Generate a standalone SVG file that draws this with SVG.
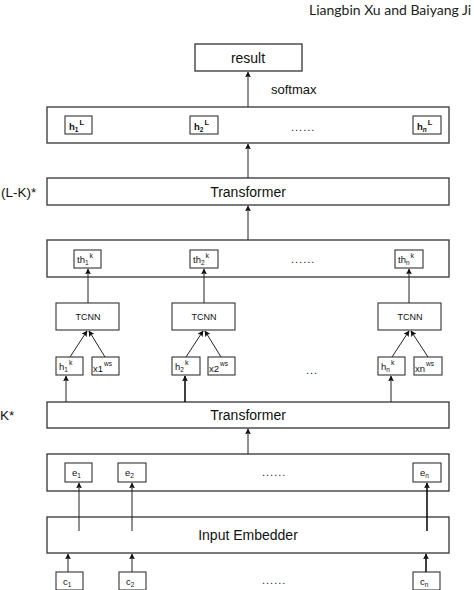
<svg xmlns="http://www.w3.org/2000/svg" width="474" height="590" viewBox="0 0 474 590">
<style>
.b{fill:#fff;stroke:#333;stroke-width:1.3}
.s{fill:#fff;stroke:#333;stroke-width:1.1}
.t{font-family:"Liberation Sans",Arial,sans-serif;fill:#111}
.l{font-size:14px;text-anchor:middle}
.m{font-size:9.5px}
.c{stroke:#222;stroke-width:1;fill:none}
.k{stroke:#111;stroke-width:1.6;fill:none}
.d{font-size:11px;letter-spacing:1px;fill:#222}
</style>
<defs>
<marker id="a" viewBox="0 0 10 10" refX="9" refY="5" markerWidth="6" markerHeight="6" orient="auto" markerUnits="userSpaceOnUse">
<path d="M0,0 L10,5 L0,10 L2,5 Z" fill="#111"/>
</marker>
</defs>
<text x="309" y="15" font-family="Lato,'Open Sans',sans-serif" font-size="14" fill="#222">Liangbin Xu and Baiyang Ji</text>

<g id="result"><rect class="b" x="195" y="44" width="107" height="27"/><text class="t l" x="248" y="63" font-size="15">result</text></g>
<text class="t" x="271" y="94" font-size="13">softmax</text>

<g id="topband"><rect class="b" x="47" y="107" width="402" height="36"/>
<rect class="s" x="65" y="116" width="27" height="18"/><text class="t m" x="69" y="130" font-weight="bold">h<tspan font-size="6.5" dy="2">1</tspan><tspan font-size="7.5" dy="-7" dx="1">L</tspan></text>
<rect class="s" x="190" y="116" width="28" height="18"/><text class="t m" x="194" y="130" font-weight="bold">h<tspan font-size="6.5" dy="2">2</tspan><tspan font-size="7.5" dy="-7" dx="1">L</tspan></text>
<text class="t d" x="291" y="131">......</text>
<rect class="s" x="413" y="116" width="28" height="18"/><text class="t m" x="417" y="130" font-weight="bold">h<tspan font-size="6.5" dy="2" font-style="italic">n</tspan><tspan font-size="7.5" dy="-7" dx="1">L</tspan></text>
</g>

<g id="transformerLK"><rect class="b" x="47" y="178" width="402" height="27"/><text class="t l" x="248" y="197">Transformer</text></g>
<text class="t" x="1" y="197" font-size="13.5">(L-K)*</text>

<g id="thband"><rect class="b" x="47" y="240" width="402" height="37"/>
<rect class="s" x="74" y="250" width="27" height="18"/><text class="t m" x="77" y="263">th<tspan font-size="6.5" dy="2">1</tspan><tspan font-size="7" dy="-7" dx="1">k</tspan></text>
<rect class="s" x="190" y="250" width="28" height="18"/><text class="t m" x="193" y="263">th<tspan font-size="6.5" dy="2">2</tspan><tspan font-size="7" dy="-7" dx="1">k</tspan></text>
<text class="t d" x="291" y="263">......</text>
<rect class="s" x="395" y="250" width="28" height="18"/><text class="t m" x="398" y="263">th<tspan font-size="6.5" dy="2">n</tspan><tspan font-size="7" dy="-7" dx="1">k</tspan></text>
</g>

<g id="tcnn1"><rect class="s" x="56" y="303" width="63" height="27"/><text class="t" x="88" y="320" font-size="9" text-anchor="middle">TCNN</text></g>
<g id="tcnn2"><rect class="s" x="172" y="303" width="63" height="27"/><text class="t" x="204" y="320" font-size="9" text-anchor="middle">TCNN</text></g>
<g id="tcnn3"><rect class="s" x="378" y="303" width="63" height="27"/><text class="t" x="410" y="320" font-size="9" text-anchor="middle">TCNN</text></g>

<g id="h1k"><rect class="s" x="56" y="357" width="27" height="18"/><text class="t m" x="59" y="370">h<tspan font-size="6.5" dy="2">1</tspan><tspan font-size="7" dy="-7" dx="1">k</tspan></text></g>
<g id="x1ws"><rect class="s" x="92" y="357" width="27" height="18"/><text class="t m" x="93" y="372">x1<tspan font-size="6.5" dy="-6" dx="1">ws</tspan></text></g>
<g id="h2k"><rect class="s" x="172" y="357" width="28" height="18"/><text class="t m" x="175" y="370">h<tspan font-size="6.5" dy="2">2</tspan><tspan font-size="7" dy="-7" dx="1">k</tspan></text></g>
<g id="x2ws"><rect class="s" x="208" y="357" width="27" height="18"/><text class="t m" x="209" y="372">x2<tspan font-size="6.5" dy="-6" dx="1">ws</tspan></text></g>
<text class="t d" x="306" y="374">...</text>
<g id="hnk"><rect class="s" x="378" y="357" width="27" height="18"/><text class="t m" x="381" y="370">h<tspan font-size="6.5" dy="2">n</tspan><tspan font-size="7" dy="-7" dx="1">k</tspan></text></g>
<g id="xnws"><rect class="s" x="414" y="357" width="28" height="18"/><text class="t m" x="415" y="372">xn<tspan font-size="6.5" dy="-6" dx="1">ws</tspan></text></g>

<g id="transformerK"><rect class="b" x="47" y="402" width="402" height="26"/><text class="t l" x="248" y="420">Transformer</text></g>
<text class="t" x="0" y="420" font-size="13.5">K*</text>

<g id="eband"><rect class="b" x="47" y="454" width="402" height="37"/>
<rect class="s" x="65" y="463" width="27" height="19"/><text class="t m" x="72" y="476">e<tspan font-size="6.5" dy="2">1</tspan></text>
<rect class="s" x="118" y="463" width="28" height="19"/><text class="t m" x="125" y="476">e<tspan font-size="6.5" dy="2">2</tspan></text>
<text class="t d" x="262" y="476">......</text>
<rect class="s" x="413" y="463" width="28" height="19"/><text class="t m" x="420" y="476">e<tspan font-size="6.5" dy="2">n</tspan></text>
</g>

<g id="embedder"><rect class="b" x="47" y="517" width="402" height="36"/><text class="t l" x="248" y="540">Input Embedder</text></g>

<g id="c1"><rect class="s" x="56" y="572" width="27" height="18"/><text class="t m" x="63" y="585">c<tspan font-size="6.5" dy="2">1</tspan></text></g>
<g id="c2"><rect class="s" x="119" y="572" width="27" height="18"/><text class="t m" x="126" y="585">c<tspan font-size="6.5" dy="2">2</tspan></text></g>
<text class="t d" x="262" y="584">......</text>
<g id="cn"><rect class="s" x="413" y="572" width="27" height="18"/><text class="t m" x="420" y="585">c<tspan font-size="6.5" dy="2">n</tspan></text></g>

<g id="connectors">
<line class="c" x1="248" y1="107" x2="248" y2="72" marker-end="url(#a)"/>
<line class="c" x1="248" y1="178" x2="248" y2="144" marker-end="url(#a)"/>
<line class="c" x1="248" y1="240" x2="248" y2="206" marker-end="url(#a)"/>
<line class="c" x1="88" y1="303" x2="88" y2="269" marker-end="url(#a)"/>
<line class="c" x1="204" y1="303" x2="204" y2="269" marker-end="url(#a)"/>
<line class="c" x1="409" y1="303" x2="409" y2="269" marker-end="url(#a)"/>
<line class="c" x1="70" y1="357" x2="87" y2="331" marker-end="url(#a)"/>
<line class="c" x1="105" y1="357" x2="89" y2="331" marker-end="url(#a)"/>
<line class="c" x1="186" y1="357" x2="203" y2="331" marker-end="url(#a)"/>
<line class="c" x1="221" y1="357" x2="205" y2="331" marker-end="url(#a)"/>
<line class="c" x1="392" y1="357" x2="409" y2="331" marker-end="url(#a)"/>
<line class="c" x1="428" y1="357" x2="411" y2="331" marker-end="url(#a)"/>
<line class="c" x1="66" y1="402" x2="66" y2="376" marker-end="url(#a)"/>
<line class="k" x1="185" y1="402" x2="185" y2="376" marker-end="url(#a)"/>
<line class="c" x1="391" y1="402" x2="391" y2="376" marker-end="url(#a)"/>
<line class="c" x1="248" y1="454" x2="248" y2="429" marker-end="url(#a)"/>
<line class="c" x1="79" y1="531" x2="79" y2="483" marker-end="url(#a)"/>
<line class="c" x1="132" y1="531" x2="132" y2="483" marker-end="url(#a)"/>
<line class="k" x1="427" y1="531" x2="427" y2="483" marker-end="url(#a)"/>
<line class="c" x1="68" y1="572" x2="68" y2="554" marker-end="url(#a)"/>
<line class="c" x1="132" y1="572" x2="132" y2="554" marker-end="url(#a)"/>
<line class="k" x1="426" y1="572" x2="426" y2="554" marker-end="url(#a)"/>
</g>
</svg>
